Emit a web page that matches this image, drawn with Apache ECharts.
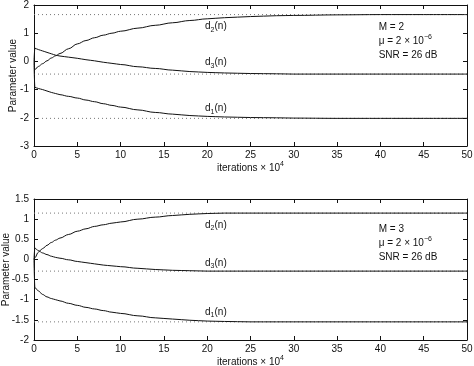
<!DOCTYPE html>
<html>
<head>
<meta charset="utf-8">
<script src="https://cdn.jsdelivr.net/npm/echarts@6/dist/echarts.min.js"></script>
<style>
  html, body { margin: 0; padding: 0; background: #fff; }
  #chart { width: 474px; height: 366px; }
</style>
</head>
<body>
<div id="chart"></div>
<script>
// iterations (x 10^4), shared by all curves
const iters = [0, 0.1, 0.5, 1, 1.5, 2, 2.5, 3, 4, 5, 6, 7, 8, 9, 10, 12, 14, 16, 18, 20, 22, 25, 28, 30, 35, 40, 45, 50];

// upper panel, M = 2
const topD1 = [0, -0.92, -0.96, -1.0, -1.05, -1.10, -1.14, -1.18, -1.24, -1.30, -1.37, -1.43, -1.50, -1.56, -1.62, -1.72, -1.81, -1.87, -1.92, -1.95, -1.97, -1.99, -2.0, -2.01, -2.02, -2.02, -2.02, -2.02];
const topD2 = [-0.30, -0.29, -0.18, -0.08, 0.02, 0.12, 0.20, 0.28, 0.45, 0.62, 0.74, 0.84, 0.93, 1.00, 1.07, 1.18, 1.28, 1.37, 1.45, 1.51, 1.55, 1.59, 1.62, 1.63, 1.65, 1.66, 1.66, 1.66];
const topD3 = [0, 0.47, 0.42, 0.37, 0.32, 0.27, 0.22, 0.19, 0.15, 0.11, 0.06, 0.02, -0.03, -0.07, -0.11, -0.19, -0.25, -0.31, -0.36, -0.39, -0.41, -0.43, -0.44, -0.45, -0.45, -0.45, -0.45, -0.45];
const topTrue = [-2.02, 1.66, -0.45];   // d1, d2, d3 true values

// lower panel, M = 3
const botD1 = [0, -0.70, -0.78, -0.87, -0.93, -0.97, -1.00, -1.03, -1.09, -1.14, -1.19, -1.23, -1.27, -1.31, -1.34, -1.40, -1.45, -1.48, -1.51, -1.53, -1.54, -1.55, -1.55, -1.55, -1.55, -1.55, -1.55, -1.55];
const botD2 = [0, 0.04, 0.18, 0.27, 0.35, 0.42, 0.48, 0.53, 0.62, 0.70, 0.76, 0.82, 0.86, 0.90, 0.93, 1.00, 1.05, 1.09, 1.12, 1.14, 1.15, 1.15, 1.15, 1.15, 1.15, 1.15, 1.15, 1.15];
const botD3 = [0, 0.28, 0.22, 0.16, 0.12, 0.08, 0.05, 0.03, -0.01, -0.05, -0.08, -0.11, -0.14, -0.16, -0.18, -0.22, -0.25, -0.27, -0.28, -0.29, -0.29, -0.29, -0.29, -0.29, -0.29, -0.29, -0.29, -0.29];
const botTrue = [-1.55, 1.15, -0.29];

// label anchors [x, y] in data units
const topLabelPos = [[19.75, -1.67], [19.75, 1.23], [19.75, -0.03]];
const botLabelPos = [[19.75, -1.30], [19.75, 0.855], [19.75, -0.09]];
const topNote = [39.8, 1.47];
const botNote = [39.8, 0.93];

const FONT = 'Liberation Sans';
const INK = '#111';

const rich = {
  t: { fontSize: 10, lineHeight: 14, color: INK, fontFamily: FONT },
  sub: { fontSize: 7, verticalAlign: 'bottom', color: INK, fontFamily: FONT },
  sup: { fontSize: 7, verticalAlign: 'top', color: INK, fontFamily: FONT }
};

function pairs(ys) {
  return iters.map((x, i) => [x, ys[i]]);
}

function xAxes(grid, nameGap) {
  const base = {
    gridIndex: grid, type: 'value', min: 0, max: 50, interval: 5,
    axisLine: { onZero: false, lineStyle: { color: INK, width: 1 } },
    axisTick: { inside: true, length: 4, lineStyle: { color: INK } },
    splitLine: { show: false }
  };
  return [
    Object.assign({}, base, {
      position: 'bottom',
      axisLabel: { color: INK, fontSize: 10, fontFamily: FONT, margin: 4 },
      name: '{t|iterations × 10}{sup|4}', nameLocation: 'middle', nameGap: nameGap,
      nameTextStyle: { rich: rich }
    }),
    Object.assign({}, base, { position: 'top', axisLabel: { show: false } })
  ];
}

function yAxes(grid, min, max, interval, nameGap) {
  const base = {
    gridIndex: grid, type: 'value', min: min, max: max, interval: interval,
    axisLine: { onZero: false, lineStyle: { color: INK, width: 1 } },
    axisTick: { inside: true, length: 4, lineStyle: { color: INK } },
    splitLine: { show: false }
  };
  return [
    Object.assign({}, base, {
      position: 'left',
      axisLabel: { color: INK, fontSize: 10, fontFamily: FONT, margin: 5 },
      name: 'Parameter value', nameLocation: 'middle', nameGap: nameGap,
      nameMoveOverlap: false,
      nameTextStyle: { color: INK, fontSize: 10, fontFamily: FONT }
    }),
    Object.assign({}, base, { position: 'right', axisLabel: { show: false } })
  ];
}

function curve(xi, yi, ys) {
  return {
    type: 'line', xAxisIndex: xi, yAxisIndex: yi, data: pairs(ys),
    showSymbol: false, smooth: 0.35, smoothMonotone: 'x',
    lineStyle: { color: INK, width: 1 }, silent: true, z: 3
  };
}

function refLine(xi, yi, v, labelPos, idx, note) {
  const marks = [{
    coord: labelPos,
    label: { formatter: '{t|d}{sub|' + idx + '}{t|(n)}' }
  }];
  if (note) {
    marks.push({
      coord: note.pos,
      label: {
        position: [0, 0], align: 'left', verticalAlign: 'top',
        formatter: note.text
      }
    });
  }
  return {
    type: 'line', xAxisIndex: xi, yAxisIndex: yi,
    data: [[0, v], [50, v]], showSymbol: false, silent: true, z: 2,
    lineStyle: { color: '#777', width: 1, type: [1, 3] },
    markPoint: {
      symbol: 'circle', symbolSize: 0, silent: true,
      label: { show: true, position: 'right', distance: 0, rich: rich },
      data: marks
    }
  };
}

const noteText = m => [
  '{t|M = ' + m + '}',
  '{t|μ = 2 × 10}{sup|−6}',
  '{t|SNR = 26 dB}'
].join('\n');

const option = {
  animation: false,
  backgroundColor: '#fff',
  grid: [
    { left: 34, right: 7, top: 5, height: 141, outerBoundsMode: 'none', containLabel: false },
    { left: 34, right: 7, top: 199, height: 141, outerBoundsMode: 'none', containLabel: false }
  ],
  xAxis: xAxes(0, 13).concat(xAxes(1, 15)),
  yAxis: yAxes(0, -3, 2, 1, 16).concat(yAxes(1, -2, 1.5, 0.5, 23)),
  series: [
    refLine(0, 0, topTrue[0], topLabelPos[0], 1),
    refLine(0, 0, topTrue[1], topLabelPos[1], 2, { pos: topNote, text: noteText(2) }),
    refLine(0, 0, topTrue[2], topLabelPos[2], 3),
    curve(0, 0, topD1),
    curve(0, 0, topD2),
    curve(0, 0, topD3),
    refLine(2, 2, botTrue[0], botLabelPos[0], 1),
    refLine(2, 2, botTrue[1], botLabelPos[1], 2, { pos: botNote, text: noteText(3) }),
    refLine(2, 2, botTrue[2], botLabelPos[2], 3),
    curve(2, 2, botD1),
    curve(2, 2, botD2),
    curve(2, 2, botD3)
  ]
};

const myChart = echarts.init(document.getElementById('chart'));
myChart.setOption(option);
</script>
</body>
</html>
